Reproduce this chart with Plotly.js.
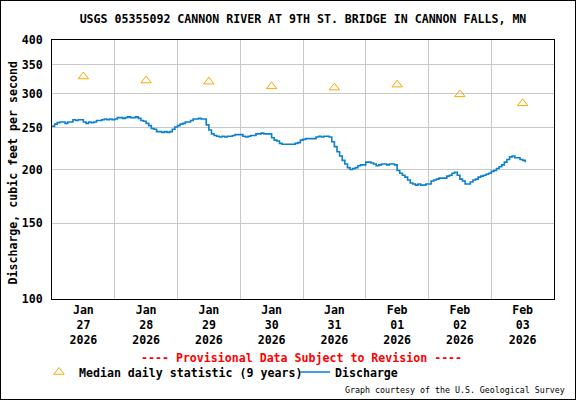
<!DOCTYPE html>
<html>
<head>
<meta charset="utf-8">
<script src="https://cdn.plot.ly/plotly-3.0.1.min.js"></script>
<style>
html,body{margin:0;padding:0;background:#fff;}
#wrap{position:relative;width:576px;height:400px;}
#chart{position:absolute;left:0;top:0;width:576px;height:400px;}
#frame{position:absolute;left:0;top:0;width:576px;height:400px;box-sizing:border-box;border:1px solid #000;pointer-events:none;}
</style>
</head>
<body>
<div id="wrap"><div id="chart"></div><div id="frame"></div></div>
<script>
const siteTitle = 'USGS 05355092 CANNON RIVER AT 9TH ST. BRIDGE IN CANNON FALLS, MN';
const yAxisTitle = 'Discharge, cubic feet per second';
const provisionalNote = '---- Provisional Data Subject to Revision ----';
const courtesyNote = 'Graph courtesy of the U.S. Geological Survey';

const medianName = 'Median daily statistic (9 years)';
const medianDates = ['2026-01-27 12:00','2026-01-28 12:00','2026-01-29 12:00','2026-01-30 12:00',
                     '2026-01-31 12:00','2026-02-01 12:00','2026-02-02 12:00','2026-02-03 12:00'];
const medianValues = [329, 322, 320, 312, 310, 315, 299, 285];

const dischargeName = 'Discharge';
const dischargeStart = '2026-01-27T00:00:00Z';
const dischargeStepHours = 1;
const dischargeValues = [
  // Jan 27
  252,255,257,258,258,256,258,258,261,260,261,261,258,256,258,257,258,260,260,261,262,261,262,261,
  // Jan 28
  262,264,264,263,264,265,264,264,265,263,260,259,256,253,249,248,245,245,244,245,244,245,248,251,
  // Jan 29
  253,255,256,258,258,260,262,262,263,262,262,254,247,242,240,239,238,239,238,239,239,240,241,241,
  // Jan 30
  241,239,238,239,240,240,242,242,243,242,242,242,237,234,233,230,229,229,229,229,229,230,231,234,
  // Jan 31
  235,236,236,236,236,238,239,238,239,239,238,232,226,220,215,210,206,202,200,201,202,204,205,205,
  // Feb 1
  208,208,207,206,204,205,206,206,205,206,206,205,199,196,194,192,189,186,185,184,185,184,184,185,
  // Feb 2
  185,188,189,190,191,191,191,193,194,196,197,194,190,188,185,185,187,189,190,192,193,194,195,196,
  // Feb 3
  198,199,201,203,205,208,211,214,215,213,213,211,210,208
];

const xRange = ['2026-01-27 00:00', '2026-02-04 00:00'];
const yTickValues = [100, 150, 200, 250, 300, 350, 400];
const yTickLabels = ['100', '150', '200', '250', '300', '350', '400'];

const startMs = Date.parse(dischargeStart);
const dischargeTimes = dischargeValues.map((v, i) =>
  new Date(startMs + i * dischargeStepHours * 3600000).toISOString().replace('T', ' ').slice(0, 16));

const FONT = 'DejaVu Sans Mono, Liberation Mono, monospace';

const traces = [
  {
    type: 'scatter', mode: 'lines', name: dischargeName,
    x: dischargeTimes, y: dischargeValues,
    line: {color: '#0a80cf', width: 1.6, shape: 'hv'},
    legend: 'legend2', showlegend: true, hoverinfo: 'skip'
  },
  {
    type: 'scatter', mode: 'markers', name: medianName,
    x: medianDates, y: medianValues,
    marker: {symbol: 'triangle-up-open', size: 9, color: '#ffa500', line: {width: 1, color: '#ffa500'}},
    legend: 'legend', showlegend: true, hoverinfo: 'skip'
  }
];

const layout = {
  width: 576, height: 400,
  margin: {l: 52, r: 22, t: 40, b: 101, pad: 0},
  paper_bgcolor: '#ffffff', plot_bgcolor: '#ffffff',
  font: {family: FONT, size: 11.6, color: '#000', weight: 'bold'},
  title: {
    text: siteTitle, xref: 'paper', x: 0.5, xanchor: 'center',
    yref: 'container', y: 1 - 19 / 400, yanchor: 'middle',
    font: {family: FONT, size: 11.6, color: '#000', weight: 'bold'}
  },
  xaxis: {
    type: 'date', range: xRange,
    tick0: '2026-01-27', dtick: 86400000, ticklabelmode: 'period',
    tickformat: '%b<br>%d<br>%Y',
    showgrid: true, gridcolor: '#c8c8c8', gridwidth: 1,
    showline: true, linecolor: '#000', linewidth: 1, mirror: true,
    ticks: '', zeroline: false, fixedrange: true,
    tickfont: {family: FONT, size: 11.6, color: '#000', weight: 'bold'}
  },
  yaxis: {
    type: 'log', range: [2, Math.log10(400)],
    tickmode: 'array', tickvals: yTickValues, ticktext: yTickLabels,
    showgrid: true, gridcolor: '#c8c8c8', gridwidth: 1,
    showline: true, linecolor: '#000', linewidth: 1, mirror: true,
    ticks: '', zeroline: false, fixedrange: true, ticklabelstandoff: 6,
    tickfont: {family: FONT, size: 11.6, color: '#000', weight: 'bold'}
  },
  legend: {
    orientation: 'h', xref: 'paper', yref: 'paper',
    x: (39 - 52) / 502, xanchor: 'left', y: (299 - 372) / 259, yanchor: 'middle',
    bgcolor: 'rgba(0,0,0,0)', borderwidth: 0,
    font: {family: FONT, size: 11.6, color: '#000', weight: 'bold'}
  },
  legend2: {
    orientation: 'h', xref: 'paper', yref: 'paper',
    x: (295 - 52) / 502, xanchor: 'left', y: (299 - 372) / 259, yanchor: 'middle',
    bgcolor: 'rgba(0,0,0,0)', borderwidth: 0,
    font: {family: FONT, size: 11.6, color: '#000', weight: 'bold'}
  },
  annotations: [
    {
      text: yAxisTitle, textangle: -90, showarrow: false,
      xref: 'paper', yref: 'paper', x: (12 - 52) / 502, y: (299 - 173.5) / 259,
      xanchor: 'center', yanchor: 'middle',
      font: {family: FONT, size: 11.6, color: '#000', weight: 'bold'}
    },
    {
      text: provisionalNote, showarrow: false,
      xref: 'paper', yref: 'paper', x: (301.5 - 52) / 502, y: (299 - 358) / 259,
      xanchor: 'center', yanchor: 'middle',
      font: {family: FONT, size: 11.6, color: '#ff0000', weight: 'bold'}
    },
    {
      text: courtesyNote, showarrow: false,
      xref: 'paper', yref: 'paper', x: (567 - 52) / 502, y: (299 - 390) / 259,
      xanchor: 'right', yanchor: 'middle',
      font: {family: FONT, size: 8.3, color: '#000', weight: 'normal'}
    }
  ]
};

Plotly.newPlot('chart', traces, layout, {staticPlot: true, displayModeBar: false});
</script>
</body>
</html>
